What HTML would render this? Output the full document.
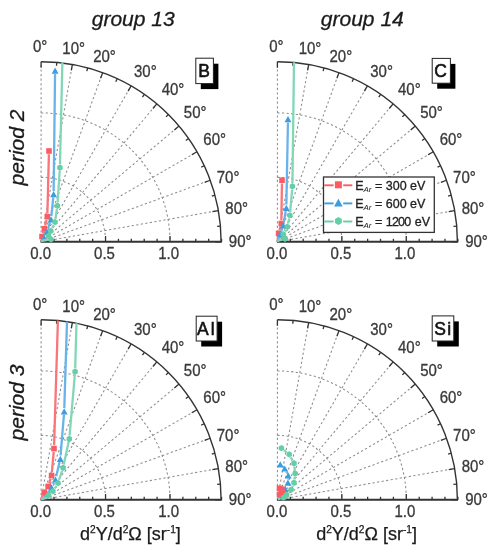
<!DOCTYPE html>
<html><head><meta charset="utf-8"><title>Polar plots</title>
<style>
html,body{margin:0;padding:0;background:#fff;}
body{width:493px;height:550px;overflow:hidden;}
svg{display:block;font-family:"Liberation Sans",Arial,sans-serif;}
.g{fill:none;stroke:#8c8c8c;stroke-width:1.05;stroke-dasharray:2.2 2.4;}
.arc{fill:none;stroke:#333333;stroke-width:1.4;}
.ax{stroke:#333333;stroke-width:2;}
.tk{stroke:#333333;stroke-width:1.3;}
.tl{font-size:15px;fill:#3a3a3a;stroke:#3a3a3a;stroke-width:0.3px;}
.el{font-size:17.5px;fill:#111;stroke:#111;stroke-width:0.55px;}
.lg{font-size:12.5px;fill:#222;stroke:#222;stroke-width:0.3px;}
.sub{font-size:8px;font-style:italic;stroke-width:0;}
.ti{font-size:21px;font-style:italic;fill:#1a1a1a;stroke:#1a1a1a;stroke-width:0.3px;}
.xl{font-size:18px;fill:#1a1a1a;stroke:#1a1a1a;stroke-width:0.25px;}
.sup{font-size:10.2px;}
</style></head>
<body><svg width="493" height="550" viewBox="0 0 493 550">
<rect width="493" height="550" fill="#fff"/>
<path d="M41.1,177.35 A64.45,64.45 0 0 1 105.55,241.8" class="g"/>
<path d="M41.1,112.9 A128.9,128.9 0 0 1 170,241.8" class="g"/>
<line x1="41.1" y1="241.8" x2="41.1" y2="61.8" class="g"/>
<line x1="41.1" y1="241.8" x2="72.36" y2="64.53" class="g"/>
<line x1="41.1" y1="241.8" x2="102.66" y2="72.66" class="g"/>
<line x1="41.1" y1="241.8" x2="131.1" y2="85.92" class="g"/>
<line x1="41.1" y1="241.8" x2="156.8" y2="103.91" class="g"/>
<line x1="41.1" y1="241.8" x2="178.99" y2="126.1" class="g"/>
<line x1="41.1" y1="241.8" x2="196.98" y2="151.8" class="g"/>
<line x1="41.1" y1="241.8" x2="210.24" y2="180.24" class="g"/>
<line x1="41.1" y1="241.8" x2="218.37" y2="210.54" class="g"/>
<path d="M41.1,61.8 A180,180 0 0 1 221.1,241.8" class="arc"/>
<line x1="41.1" y1="61.8" x2="41.1" y2="67.8" class="tk"/>
<line x1="56.79" y1="62.48" x2="56.5" y2="65.77" class="tk"/>
<line x1="72.36" y1="64.53" x2="71.31" y2="70.44" class="tk"/>
<line x1="87.69" y1="67.93" x2="86.83" y2="71.12" class="tk"/>
<line x1="102.66" y1="72.66" x2="100.61" y2="78.29" class="tk"/>
<line x1="117.17" y1="78.66" x2="115.78" y2="81.66" class="tk"/>
<line x1="131.1" y1="85.92" x2="128.1" y2="91.11" class="tk"/>
<line x1="144.34" y1="94.35" x2="142.45" y2="97.06" class="tk"/>
<line x1="156.8" y1="103.91" x2="152.95" y2="108.51" class="tk"/>
<line x1="168.38" y1="114.52" x2="166.05" y2="116.85" class="tk"/>
<line x1="178.99" y1="126.1" x2="174.39" y2="129.95" class="tk"/>
<line x1="188.55" y1="138.56" x2="185.84" y2="140.45" class="tk"/>
<line x1="196.98" y1="151.8" x2="191.79" y2="154.8" class="tk"/>
<line x1="204.24" y1="165.73" x2="201.24" y2="167.12" class="tk"/>
<line x1="210.24" y1="180.24" x2="204.61" y2="182.29" class="tk"/>
<line x1="214.97" y1="195.21" x2="211.78" y2="196.07" class="tk"/>
<line x1="218.37" y1="210.54" x2="212.46" y2="211.59" class="tk"/>
<line x1="220.42" y1="226.11" x2="217.13" y2="226.4" class="tk"/>
<line x1="221.1" y1="241.8" x2="215.1" y2="241.8" class="tk"/>
<line x1="40.6" y1="241.8" x2="221.8" y2="241.8" class="ax"/>
<line x1="53.99" y1="241.8" x2="53.99" y2="238.8" class="tk"/>
<line x1="66.88" y1="241.8" x2="66.88" y2="238.8" class="tk"/>
<line x1="79.77" y1="241.8" x2="79.77" y2="238.8" class="tk"/>
<line x1="92.66" y1="241.8" x2="92.66" y2="238.8" class="tk"/>
<line x1="105.55" y1="241.8" x2="105.55" y2="236" class="tk"/>
<line x1="118.44" y1="241.8" x2="118.44" y2="238.8" class="tk"/>
<line x1="131.33" y1="241.8" x2="131.33" y2="238.8" class="tk"/>
<line x1="144.22" y1="241.8" x2="144.22" y2="238.8" class="tk"/>
<line x1="157.11" y1="241.8" x2="157.11" y2="238.8" class="tk"/>
<line x1="170" y1="241.8" x2="170" y2="236" class="tk"/>
<line x1="182.89" y1="241.8" x2="182.89" y2="238.8" class="tk"/>
<line x1="195.78" y1="241.8" x2="195.78" y2="238.8" class="tk"/>
<line x1="208.67" y1="241.8" x2="208.67" y2="238.8" class="tk"/>
<line x1="221.56" y1="241.8" x2="221.56" y2="238.8" class="tk"/>
<text transform="translate(40.7 253.4) scale(1 1.08)" y="5.4" class="tl" text-anchor="middle">0.0</text>
<text transform="translate(104.5 253.4) scale(1 1.08)" y="5.4" class="tl" text-anchor="middle">0.5</text>
<text transform="translate(168.6 253.4) scale(1 1.08)" y="5.4" class="tl" text-anchor="middle">1.0</text>
<text transform="translate(40.1 45.9) scale(1 1.08)" y="5.4" class="tl" text-anchor="middle">0°</text>
<text transform="translate(73.7 48.6) scale(1 1.08)" y="5.4" class="tl" text-anchor="middle">10°</text>
<text transform="translate(104.5 56.6) scale(1 1.08)" y="5.4" class="tl" text-anchor="middle">20°</text>
<text transform="translate(145.3 71) scale(1 1.08)" y="5.4" class="tl" text-anchor="middle">30°</text>
<text transform="translate(173 88.9) scale(1 1.08)" y="5.4" class="tl" text-anchor="middle">40°</text>
<text transform="translate(195.2 111.9) scale(1 1.08)" y="5.4" class="tl" text-anchor="middle">50°</text>
<text transform="translate(214.7 139.1) scale(1 1.08)" y="5.4" class="tl" text-anchor="middle">60°</text>
<text transform="translate(228.1 176.7) scale(1 1.08)" y="5.4" class="tl" text-anchor="middle">70°</text>
<text transform="translate(236.7 207.8) scale(1 1.08)" y="5.4" class="tl" text-anchor="middle">80°</text>
<text transform="translate(240.2 241.4) scale(1 1.08)" y="5.4" class="tl" text-anchor="middle">90°</text>
<path d="M277.4,177.35 A64.45,64.45 0 0 1 341.85,241.8" class="g"/>
<path d="M277.4,112.9 A128.9,128.9 0 0 1 406.3,241.8" class="g"/>
<line x1="277.4" y1="241.8" x2="277.4" y2="61.8" class="g"/>
<line x1="277.4" y1="241.8" x2="308.66" y2="64.53" class="g"/>
<line x1="277.4" y1="241.8" x2="338.96" y2="72.66" class="g"/>
<line x1="277.4" y1="241.8" x2="367.4" y2="85.92" class="g"/>
<line x1="277.4" y1="241.8" x2="393.1" y2="103.91" class="g"/>
<line x1="277.4" y1="241.8" x2="415.29" y2="126.1" class="g"/>
<line x1="277.4" y1="241.8" x2="433.28" y2="151.8" class="g"/>
<line x1="277.4" y1="241.8" x2="446.54" y2="180.24" class="g"/>
<line x1="277.4" y1="241.8" x2="454.67" y2="210.54" class="g"/>
<path d="M277.4,61.8 A180,180 0 0 1 457.4,241.8" class="arc"/>
<line x1="277.4" y1="61.8" x2="277.4" y2="67.8" class="tk"/>
<line x1="293.09" y1="62.48" x2="292.8" y2="65.77" class="tk"/>
<line x1="308.66" y1="64.53" x2="307.61" y2="70.44" class="tk"/>
<line x1="323.99" y1="67.93" x2="323.13" y2="71.12" class="tk"/>
<line x1="338.96" y1="72.66" x2="336.91" y2="78.29" class="tk"/>
<line x1="353.47" y1="78.66" x2="352.08" y2="81.66" class="tk"/>
<line x1="367.4" y1="85.92" x2="364.4" y2="91.11" class="tk"/>
<line x1="380.64" y1="94.35" x2="378.75" y2="97.06" class="tk"/>
<line x1="393.1" y1="103.91" x2="389.25" y2="108.51" class="tk"/>
<line x1="404.68" y1="114.52" x2="402.35" y2="116.85" class="tk"/>
<line x1="415.29" y1="126.1" x2="410.69" y2="129.95" class="tk"/>
<line x1="424.85" y1="138.56" x2="422.14" y2="140.45" class="tk"/>
<line x1="433.28" y1="151.8" x2="428.09" y2="154.8" class="tk"/>
<line x1="440.54" y1="165.73" x2="437.54" y2="167.12" class="tk"/>
<line x1="446.54" y1="180.24" x2="440.91" y2="182.29" class="tk"/>
<line x1="451.27" y1="195.21" x2="448.08" y2="196.07" class="tk"/>
<line x1="454.67" y1="210.54" x2="448.76" y2="211.59" class="tk"/>
<line x1="456.72" y1="226.11" x2="453.43" y2="226.4" class="tk"/>
<line x1="457.4" y1="241.8" x2="451.4" y2="241.8" class="tk"/>
<line x1="276.9" y1="241.8" x2="458.1" y2="241.8" class="ax"/>
<line x1="290.29" y1="241.8" x2="290.29" y2="238.8" class="tk"/>
<line x1="303.18" y1="241.8" x2="303.18" y2="238.8" class="tk"/>
<line x1="316.07" y1="241.8" x2="316.07" y2="238.8" class="tk"/>
<line x1="328.96" y1="241.8" x2="328.96" y2="238.8" class="tk"/>
<line x1="341.85" y1="241.8" x2="341.85" y2="236" class="tk"/>
<line x1="354.74" y1="241.8" x2="354.74" y2="238.8" class="tk"/>
<line x1="367.63" y1="241.8" x2="367.63" y2="238.8" class="tk"/>
<line x1="380.52" y1="241.8" x2="380.52" y2="238.8" class="tk"/>
<line x1="393.41" y1="241.8" x2="393.41" y2="238.8" class="tk"/>
<line x1="406.3" y1="241.8" x2="406.3" y2="236" class="tk"/>
<line x1="419.19" y1="241.8" x2="419.19" y2="238.8" class="tk"/>
<line x1="432.08" y1="241.8" x2="432.08" y2="238.8" class="tk"/>
<line x1="444.97" y1="241.8" x2="444.97" y2="238.8" class="tk"/>
<line x1="457.86" y1="241.8" x2="457.86" y2="238.8" class="tk"/>
<text transform="translate(277 253.4) scale(1 1.08)" y="5.4" class="tl" text-anchor="middle">0.0</text>
<text transform="translate(340.8 253.4) scale(1 1.08)" y="5.4" class="tl" text-anchor="middle">0.5</text>
<text transform="translate(404.9 253.4) scale(1 1.08)" y="5.4" class="tl" text-anchor="middle">1.0</text>
<text transform="translate(276.4 45.9) scale(1 1.08)" y="5.4" class="tl" text-anchor="middle">0°</text>
<text transform="translate(310 48.6) scale(1 1.08)" y="5.4" class="tl" text-anchor="middle">10°</text>
<text transform="translate(340.8 56.6) scale(1 1.08)" y="5.4" class="tl" text-anchor="middle">20°</text>
<text transform="translate(381.6 71) scale(1 1.08)" y="5.4" class="tl" text-anchor="middle">30°</text>
<text transform="translate(409.3 88.9) scale(1 1.08)" y="5.4" class="tl" text-anchor="middle">40°</text>
<text transform="translate(431.5 111.9) scale(1 1.08)" y="5.4" class="tl" text-anchor="middle">50°</text>
<text transform="translate(451 139.1) scale(1 1.08)" y="5.4" class="tl" text-anchor="middle">60°</text>
<text transform="translate(464.4 176.7) scale(1 1.08)" y="5.4" class="tl" text-anchor="middle">70°</text>
<text transform="translate(473 207.8) scale(1 1.08)" y="5.4" class="tl" text-anchor="middle">80°</text>
<text transform="translate(476.5 241.4) scale(1 1.08)" y="5.4" class="tl" text-anchor="middle">90°</text>
<path d="M41.1,435.35 A64.45,64.45 0 0 1 105.55,499.8" class="g"/>
<path d="M41.1,370.9 A128.9,128.9 0 0 1 170,499.8" class="g"/>
<line x1="41.1" y1="499.8" x2="41.1" y2="319.8" class="g"/>
<line x1="41.1" y1="499.8" x2="72.36" y2="322.53" class="g"/>
<line x1="41.1" y1="499.8" x2="102.66" y2="330.66" class="g"/>
<line x1="41.1" y1="499.8" x2="131.1" y2="343.92" class="g"/>
<line x1="41.1" y1="499.8" x2="156.8" y2="361.91" class="g"/>
<line x1="41.1" y1="499.8" x2="178.99" y2="384.1" class="g"/>
<line x1="41.1" y1="499.8" x2="196.98" y2="409.8" class="g"/>
<line x1="41.1" y1="499.8" x2="210.24" y2="438.24" class="g"/>
<line x1="41.1" y1="499.8" x2="218.37" y2="468.54" class="g"/>
<path d="M41.1,319.8 A180,180 0 0 1 221.1,499.8" class="arc"/>
<line x1="41.1" y1="319.8" x2="41.1" y2="325.8" class="tk"/>
<line x1="56.79" y1="320.48" x2="56.5" y2="323.77" class="tk"/>
<line x1="72.36" y1="322.53" x2="71.31" y2="328.44" class="tk"/>
<line x1="87.69" y1="325.93" x2="86.83" y2="329.12" class="tk"/>
<line x1="102.66" y1="330.66" x2="100.61" y2="336.29" class="tk"/>
<line x1="117.17" y1="336.66" x2="115.78" y2="339.66" class="tk"/>
<line x1="131.1" y1="343.92" x2="128.1" y2="349.11" class="tk"/>
<line x1="144.34" y1="352.35" x2="142.45" y2="355.06" class="tk"/>
<line x1="156.8" y1="361.91" x2="152.95" y2="366.51" class="tk"/>
<line x1="168.38" y1="372.52" x2="166.05" y2="374.85" class="tk"/>
<line x1="178.99" y1="384.1" x2="174.39" y2="387.95" class="tk"/>
<line x1="188.55" y1="396.56" x2="185.84" y2="398.45" class="tk"/>
<line x1="196.98" y1="409.8" x2="191.79" y2="412.8" class="tk"/>
<line x1="204.24" y1="423.73" x2="201.24" y2="425.12" class="tk"/>
<line x1="210.24" y1="438.24" x2="204.61" y2="440.29" class="tk"/>
<line x1="214.97" y1="453.21" x2="211.78" y2="454.07" class="tk"/>
<line x1="218.37" y1="468.54" x2="212.46" y2="469.59" class="tk"/>
<line x1="220.42" y1="484.11" x2="217.13" y2="484.4" class="tk"/>
<line x1="221.1" y1="499.8" x2="215.1" y2="499.8" class="tk"/>
<line x1="40.6" y1="499.8" x2="221.8" y2="499.8" class="ax"/>
<line x1="53.99" y1="499.8" x2="53.99" y2="496.8" class="tk"/>
<line x1="66.88" y1="499.8" x2="66.88" y2="496.8" class="tk"/>
<line x1="79.77" y1="499.8" x2="79.77" y2="496.8" class="tk"/>
<line x1="92.66" y1="499.8" x2="92.66" y2="496.8" class="tk"/>
<line x1="105.55" y1="499.8" x2="105.55" y2="494" class="tk"/>
<line x1="118.44" y1="499.8" x2="118.44" y2="496.8" class="tk"/>
<line x1="131.33" y1="499.8" x2="131.33" y2="496.8" class="tk"/>
<line x1="144.22" y1="499.8" x2="144.22" y2="496.8" class="tk"/>
<line x1="157.11" y1="499.8" x2="157.11" y2="496.8" class="tk"/>
<line x1="170" y1="499.8" x2="170" y2="494" class="tk"/>
<line x1="182.89" y1="499.8" x2="182.89" y2="496.8" class="tk"/>
<line x1="195.78" y1="499.8" x2="195.78" y2="496.8" class="tk"/>
<line x1="208.67" y1="499.8" x2="208.67" y2="496.8" class="tk"/>
<line x1="221.56" y1="499.8" x2="221.56" y2="496.8" class="tk"/>
<text transform="translate(40.7 511.4) scale(1 1.08)" y="5.4" class="tl" text-anchor="middle">0.0</text>
<text transform="translate(104.5 511.4) scale(1 1.08)" y="5.4" class="tl" text-anchor="middle">0.5</text>
<text transform="translate(168.6 511.4) scale(1 1.08)" y="5.4" class="tl" text-anchor="middle">1.0</text>
<text transform="translate(40.1 303.9) scale(1 1.08)" y="5.4" class="tl" text-anchor="middle">0°</text>
<text transform="translate(73.7 306.6) scale(1 1.08)" y="5.4" class="tl" text-anchor="middle">10°</text>
<text transform="translate(104.5 314.6) scale(1 1.08)" y="5.4" class="tl" text-anchor="middle">20°</text>
<text transform="translate(145.3 329) scale(1 1.08)" y="5.4" class="tl" text-anchor="middle">30°</text>
<text transform="translate(173 346.9) scale(1 1.08)" y="5.4" class="tl" text-anchor="middle">40°</text>
<text transform="translate(195.2 369.9) scale(1 1.08)" y="5.4" class="tl" text-anchor="middle">50°</text>
<text transform="translate(214.7 397.1) scale(1 1.08)" y="5.4" class="tl" text-anchor="middle">60°</text>
<text transform="translate(228.1 434.7) scale(1 1.08)" y="5.4" class="tl" text-anchor="middle">70°</text>
<text transform="translate(236.7 465.8) scale(1 1.08)" y="5.4" class="tl" text-anchor="middle">80°</text>
<text transform="translate(240.2 499.4) scale(1 1.08)" y="5.4" class="tl" text-anchor="middle">90°</text>
<path d="M277.4,435.35 A64.45,64.45 0 0 1 341.85,499.8" class="g"/>
<path d="M277.4,370.9 A128.9,128.9 0 0 1 406.3,499.8" class="g"/>
<line x1="277.4" y1="499.8" x2="277.4" y2="319.8" class="g"/>
<line x1="277.4" y1="499.8" x2="308.66" y2="322.53" class="g"/>
<line x1="277.4" y1="499.8" x2="338.96" y2="330.66" class="g"/>
<line x1="277.4" y1="499.8" x2="367.4" y2="343.92" class="g"/>
<line x1="277.4" y1="499.8" x2="393.1" y2="361.91" class="g"/>
<line x1="277.4" y1="499.8" x2="415.29" y2="384.1" class="g"/>
<line x1="277.4" y1="499.8" x2="433.28" y2="409.8" class="g"/>
<line x1="277.4" y1="499.8" x2="446.54" y2="438.24" class="g"/>
<line x1="277.4" y1="499.8" x2="454.67" y2="468.54" class="g"/>
<path d="M277.4,319.8 A180,180 0 0 1 457.4,499.8" class="arc"/>
<line x1="277.4" y1="319.8" x2="277.4" y2="325.8" class="tk"/>
<line x1="293.09" y1="320.48" x2="292.8" y2="323.77" class="tk"/>
<line x1="308.66" y1="322.53" x2="307.61" y2="328.44" class="tk"/>
<line x1="323.99" y1="325.93" x2="323.13" y2="329.12" class="tk"/>
<line x1="338.96" y1="330.66" x2="336.91" y2="336.29" class="tk"/>
<line x1="353.47" y1="336.66" x2="352.08" y2="339.66" class="tk"/>
<line x1="367.4" y1="343.92" x2="364.4" y2="349.11" class="tk"/>
<line x1="380.64" y1="352.35" x2="378.75" y2="355.06" class="tk"/>
<line x1="393.1" y1="361.91" x2="389.25" y2="366.51" class="tk"/>
<line x1="404.68" y1="372.52" x2="402.35" y2="374.85" class="tk"/>
<line x1="415.29" y1="384.1" x2="410.69" y2="387.95" class="tk"/>
<line x1="424.85" y1="396.56" x2="422.14" y2="398.45" class="tk"/>
<line x1="433.28" y1="409.8" x2="428.09" y2="412.8" class="tk"/>
<line x1="440.54" y1="423.73" x2="437.54" y2="425.12" class="tk"/>
<line x1="446.54" y1="438.24" x2="440.91" y2="440.29" class="tk"/>
<line x1="451.27" y1="453.21" x2="448.08" y2="454.07" class="tk"/>
<line x1="454.67" y1="468.54" x2="448.76" y2="469.59" class="tk"/>
<line x1="456.72" y1="484.11" x2="453.43" y2="484.4" class="tk"/>
<line x1="457.4" y1="499.8" x2="451.4" y2="499.8" class="tk"/>
<line x1="276.9" y1="499.8" x2="458.1" y2="499.8" class="ax"/>
<line x1="290.29" y1="499.8" x2="290.29" y2="496.8" class="tk"/>
<line x1="303.18" y1="499.8" x2="303.18" y2="496.8" class="tk"/>
<line x1="316.07" y1="499.8" x2="316.07" y2="496.8" class="tk"/>
<line x1="328.96" y1="499.8" x2="328.96" y2="496.8" class="tk"/>
<line x1="341.85" y1="499.8" x2="341.85" y2="494" class="tk"/>
<line x1="354.74" y1="499.8" x2="354.74" y2="496.8" class="tk"/>
<line x1="367.63" y1="499.8" x2="367.63" y2="496.8" class="tk"/>
<line x1="380.52" y1="499.8" x2="380.52" y2="496.8" class="tk"/>
<line x1="393.41" y1="499.8" x2="393.41" y2="496.8" class="tk"/>
<line x1="406.3" y1="499.8" x2="406.3" y2="494" class="tk"/>
<line x1="419.19" y1="499.8" x2="419.19" y2="496.8" class="tk"/>
<line x1="432.08" y1="499.8" x2="432.08" y2="496.8" class="tk"/>
<line x1="444.97" y1="499.8" x2="444.97" y2="496.8" class="tk"/>
<line x1="457.86" y1="499.8" x2="457.86" y2="496.8" class="tk"/>
<text transform="translate(277 511.4) scale(1 1.08)" y="5.4" class="tl" text-anchor="middle">0.0</text>
<text transform="translate(340.8 511.4) scale(1 1.08)" y="5.4" class="tl" text-anchor="middle">0.5</text>
<text transform="translate(404.9 511.4) scale(1 1.08)" y="5.4" class="tl" text-anchor="middle">1.0</text>
<text transform="translate(276.4 303.9) scale(1 1.08)" y="5.4" class="tl" text-anchor="middle">0°</text>
<text transform="translate(310 306.6) scale(1 1.08)" y="5.4" class="tl" text-anchor="middle">10°</text>
<text transform="translate(340.8 314.6) scale(1 1.08)" y="5.4" class="tl" text-anchor="middle">20°</text>
<text transform="translate(381.6 329) scale(1 1.08)" y="5.4" class="tl" text-anchor="middle">30°</text>
<text transform="translate(409.3 346.9) scale(1 1.08)" y="5.4" class="tl" text-anchor="middle">40°</text>
<text transform="translate(431.5 369.9) scale(1 1.08)" y="5.4" class="tl" text-anchor="middle">50°</text>
<text transform="translate(451 397.1) scale(1 1.08)" y="5.4" class="tl" text-anchor="middle">60°</text>
<text transform="translate(464.4 434.7) scale(1 1.08)" y="5.4" class="tl" text-anchor="middle">70°</text>
<text transform="translate(473 465.8) scale(1 1.08)" y="5.4" class="tl" text-anchor="middle">80°</text>
<text transform="translate(476.5 499.4) scale(1 1.08)" y="5.4" class="tl" text-anchor="middle">90°</text>
<path d="M48.91,154.3 L47.39,213.4 M46.53,219.91 L45.17,225.59 M43.42,231.95 L42.98,233.35 M41.7,239.79 L41.5,242" fill="none" stroke="#fa7479" stroke-width="2.3" stroke-linecap="butt"/>
<rect x="46.2" y="148.2" width="5.6" height="5.6" fill="#f95c63"/>
<rect x="44.5" y="213.9" width="5.6" height="5.6" fill="#f95c63"/>
<rect x="41.6" y="226" width="5.6" height="5.6" fill="#f95c63"/>
<rect x="39.2" y="233.7" width="5.6" height="5.6" fill="#f95c63"/>
<path d="M55.06,73.9 L53.64,190.9 M53.26,197.48 L51.34,216.02 M49.99,222.44 L48.01,228.66 M45.52,234.75 L45.28,235.25 M42.09,241.02 L41.5,242" fill="none" stroke="#68b3ea" stroke-width="2.3" stroke-linecap="butt"/>
<path d="M55.1,67.52 L58.57,73.68 L51.63,73.68Z" fill="#3c9ee2"/>
<path d="M53.6,191.12 L57.07,197.28 L50.13,197.28Z" fill="#3c9ee2"/>
<path d="M51,216.22 L54.47,222.38 L47.53,222.38Z" fill="#3c9ee2"/>
<path d="M47,228.72 L50.47,234.88 L43.53,234.88Z" fill="#3c9ee2"/>
<path d="M43.8,235.12 L47.27,241.28 L40.33,241.28Z" fill="#3c9ee2"/>
<path d="M62.4,62.3 L59.98,164.4 M59.68,170.99 L57.62,202.51 M56.92,209.06 L55.48,218.74 M53.6,224.99 L52.2,228.01 M47.74,239.84 L41.3,240.9" fill="none" stroke="#82d7b7" stroke-width="2.3" stroke-linecap="butt"/>
<path d="M59.9,164.51 L62.62,166.1 L62.62,169.3 L59.9,170.89 L57.18,169.3 L57.18,166.1Z" fill="#62cfa6"/>
<path d="M57.4,202.61 L60.12,204.2 L60.12,207.4 L57.4,208.99 L54.68,207.4 L54.68,204.2Z" fill="#62cfa6"/>
<path d="M55,218.81 L57.72,220.4 L57.72,223.6 L55,225.19 L52.28,223.6 L52.28,220.4Z" fill="#62cfa6"/>
<path d="M50.8,227.81 L53.52,229.4 L53.52,232.6 L50.8,234.19 L48.08,232.6 L48.08,229.4Z" fill="#62cfa6"/>
<path d="M48.5,232.81 L51.22,234.4 L51.22,237.6 L48.5,239.19 L45.78,237.6 L45.78,234.4Z" fill="#62cfa6"/>
<path d="M51,236.11 L53.72,237.7 L53.72,240.9 L51,242.49 L48.28,240.9 L48.28,237.7Z" fill="#62cfa6"/>
<path d="M281.95,183.5 L281.35,220.2 M280.42,226.68 L279.48,230.12 M278.07,236.56 L277.6,239.5 M277.6,239.5 L277.5,242" fill="none" stroke="#fa7479" stroke-width="2.3" stroke-linecap="butt"/>
<rect x="279.2" y="177.4" width="5.6" height="5.6" fill="#f95c63"/>
<rect x="278.5" y="220.7" width="5.6" height="5.6" fill="#f95c63"/>
<rect x="275.8" y="230.5" width="5.6" height="5.6" fill="#f95c63"/>
<path d="M287.94,122.4 L286.36,204.5 M285.73,211.05 L283.77,222.25 M282.13,228.62 L281.37,230.88 M279.21,237.11 L277.5,242" fill="none" stroke="#68b3ea" stroke-width="2.3" stroke-linecap="butt"/>
<path d="M288,116.02 L291.47,122.18 L284.53,122.18Z" fill="#3c9ee2"/>
<path d="M286.3,204.72 L289.77,210.88 L282.83,210.88Z" fill="#3c9ee2"/>
<path d="M283.2,222.42 L286.67,228.58 L279.73,228.58Z" fill="#3c9ee2"/>
<path d="M280.3,230.92 L283.77,237.08 L276.83,237.08Z" fill="#3c9ee2"/>
<path d="M294,62.3 L292.44,183 M292.12,189.59 L290.18,212.11 M289.17,218.62 L288.03,223.58 M285.72,229.7 L284.78,231.4 M281.83,239.7 L277.6,240.9" fill="none" stroke="#82d7b7" stroke-width="2.3" stroke-linecap="butt"/>
<path d="M292.4,183.11 L295.12,184.7 L295.12,187.9 L292.4,189.49 L289.68,187.9 L289.68,184.7Z" fill="#62cfa6"/>
<path d="M289.9,212.21 L292.62,213.8 L292.62,217 L289.9,218.59 L287.18,217 L287.18,213.8Z" fill="#62cfa6"/>
<path d="M287.3,223.61 L290.02,225.2 L290.02,228.4 L287.3,229.99 L284.58,228.4 L284.58,225.2Z" fill="#62cfa6"/>
<path d="M283.2,231.11 L285.92,232.7 L285.92,235.9 L283.2,237.49 L280.48,235.9 L280.48,232.7Z" fill="#62cfa6"/>
<path d="M285,235.61 L287.72,237.2 L287.72,240.4 L285,241.99 L282.28,240.4 L282.28,237.2Z" fill="#62cfa6"/>
<path d="M57.9,320.6 L54.1,445.3 M53.71,451.89 L51.89,472.21 M50.62,478.65 L49.18,483.25 M46.43,489.19 L45.97,489.91 M42.7,495.64 L41.5,498 M41.5,498 L41.5,500" fill="none" stroke="#fa7479" stroke-width="2.3" stroke-linecap="butt"/>
<rect x="51.2" y="445.8" width="5.6" height="5.6" fill="#f95c63"/>
<rect x="48.8" y="472.7" width="5.6" height="5.6" fill="#f95c63"/>
<rect x="45.4" y="483.6" width="5.6" height="5.6" fill="#f95c63"/>
<rect x="41.4" y="489.9" width="5.6" height="5.6" fill="#f95c63"/>
<path d="M67,321.6 L64.3,408.1 M63.93,414.69 L60.57,455.51 M59.55,462.01 L56.25,476.29 M53.99,482.44 L53.01,484.36 M50,490.24 L48.4,493.4 M48.4,493.4 L41.5,500" fill="none" stroke="#68b3ea" stroke-width="2.3" stroke-linecap="butt"/>
<path d="M64.2,408.32 L67.67,414.48 L60.73,414.48Z" fill="#3c9ee2"/>
<path d="M60.3,455.72 L63.77,461.88 L56.83,461.88Z" fill="#3c9ee2"/>
<path d="M55.5,476.42 L58.97,482.58 L52.03,482.58Z" fill="#3c9ee2"/>
<path d="M51.5,484.22 L54.97,490.38 L48.03,490.38Z" fill="#3c9ee2"/>
<path d="M76.5,323.2 L75.2,368.4 M74.82,374.99 L69.58,435.61 M68.61,442.13 L63.79,464.57 M62.05,470.93 L59.05,479.87 M56.27,485.81 L54.63,488.49 M47.5,497.8 L41.3,498.9" fill="none" stroke="#82d7b7" stroke-width="2.3" stroke-linecap="butt"/>
<path d="M75.1,368.51 L77.82,370.1 L77.82,373.3 L75.1,374.89 L72.38,373.3 L72.38,370.1Z" fill="#62cfa6"/>
<path d="M69.3,435.71 L72.02,437.3 L72.02,440.5 L69.3,442.09 L66.58,440.5 L66.58,437.3Z" fill="#62cfa6"/>
<path d="M63.1,464.61 L65.82,466.2 L65.82,469.4 L63.1,470.99 L60.38,469.4 L60.38,466.2Z" fill="#62cfa6"/>
<path d="M58,479.81 L60.72,481.4 L60.72,484.6 L58,486.19 L55.28,484.6 L55.28,481.4Z" fill="#62cfa6"/>
<path d="M52.9,488.11 L55.62,489.7 L55.62,492.9 L52.9,494.49 L50.18,492.9 L50.18,489.7Z" fill="#62cfa6"/>
<path d="M48.4,492.21 L51.12,493.8 L51.12,497 L48.4,498.59 L45.68,497 L45.68,493.8Z" fill="#62cfa6"/>
<path d="M286.19,471.44 L286.71,472.46 M288.06,478.7 L288.04,479.4 M278.26,498.92 L278,499.2" fill="none" stroke="#68b3ea" stroke-width="2.3" stroke-linecap="butt"/>
<path d="M280.3,461.22 L283.77,467.38 L276.83,467.38Z" fill="#3c9ee2"/>
<path d="M284.7,465.42 L288.17,471.58 L281.23,471.58Z" fill="#3c9ee2"/>
<path d="M288.2,472.32 L291.67,478.48 L284.73,478.48Z" fill="#3c9ee2"/>
<path d="M287.9,479.62 L291.37,485.78 L284.43,485.78Z" fill="#3c9ee2"/>
<path d="M285.4,486.02 L288.87,492.18 L281.93,492.18Z" fill="#3c9ee2"/>
<path d="M283,490.12 L286.47,496.28 L279.53,496.28Z" fill="#3c9ee2"/>
<path d="M280.5,493.42 L283.97,499.58 L277.03,499.58Z" fill="#3c9ee2"/>
<rect x="276.7" y="485.5" width="5.6" height="5.6" fill="#f95c63"/>
<rect x="278.7" y="486.4" width="5.6" height="5.6" fill="#f95c63"/>
<rect x="279.5" y="488.5" width="5.6" height="5.6" fill="#f95c63"/>
<rect x="278.7" y="490.6" width="5.6" height="5.6" fill="#f95c63"/>
<rect x="276.7" y="491.6" width="5.6" height="5.6" fill="#f95c63"/>
<path d="M283.97,450.17 L286.63,452.33 M290.77,457.3 L292.43,460.4 M294.39,466.58 L294.81,470.22 M294.77,476.77 L294.43,479.43 M292.74,485.75 L292.36,486.65 M280.33,498.52 L278,499.2" fill="none" stroke="#82d7b7" stroke-width="2.3" stroke-linecap="butt"/>
<path d="M281.4,444.91 L284.12,446.5 L284.12,449.7 L281.4,451.29 L278.68,449.7 L278.68,446.5Z" fill="#62cfa6"/>
<path d="M289.2,451.21 L291.92,452.8 L291.92,456 L289.2,457.59 L286.48,456 L286.48,452.8Z" fill="#62cfa6"/>
<path d="M294,460.11 L296.72,461.7 L296.72,464.9 L294,466.49 L291.28,464.9 L291.28,461.7Z" fill="#62cfa6"/>
<path d="M295.2,470.31 L297.92,471.9 L297.92,475.1 L295.2,476.69 L292.48,475.1 L292.48,471.9Z" fill="#62cfa6"/>
<path d="M294,479.51 L296.72,481.1 L296.72,484.3 L294,485.89 L291.28,484.3 L291.28,481.1Z" fill="#62cfa6"/>
<path d="M291.1,486.51 L293.82,488.1 L293.82,491.3 L291.1,492.89 L288.38,491.3 L288.38,488.1Z" fill="#62cfa6"/>
<path d="M286.6,491.61 L289.32,493.2 L289.32,496.4 L286.6,497.99 L283.88,496.4 L283.88,493.2Z" fill="#62cfa6"/>
<path d="M283.5,494.41 L286.22,496 L286.22,499.2 L283.5,500.79 L280.78,499.2 L280.78,496Z" fill="#62cfa6"/>
<rect x="200.8" y="63.7" width="17.6" height="25.4" fill="#000"/>
<rect x="195.8" y="58.2" width="17.6" height="25.4" fill="#fff" stroke="#222" stroke-width="1"/>
<text x="198.3" y="77.3" class="el">B</text>
<rect x="437.2" y="63.9" width="18.2" height="24.8" fill="#000"/>
<rect x="432.2" y="58.4" width="18.2" height="24.8" fill="#fff" stroke="#222" stroke-width="1"/>
<text x="434.2" y="76.9" class="el">C</text>
<rect x="201.2" y="321.7" width="20.9" height="24.8" fill="#000"/>
<rect x="196.2" y="316.2" width="20.9" height="24.8" fill="#fff" stroke="#222" stroke-width="1"/>
<text x="197.1" y="334.7" class="el" letter-spacing="1.9">Al</text>
<rect x="437.2" y="321.4" width="21.6" height="25.1" fill="#000"/>
<rect x="432.2" y="315.9" width="21.6" height="25.1" fill="#fff" stroke="#222" stroke-width="1"/>
<text x="434.3" y="334.7" class="el" letter-spacing="1.3">Si</text>
<rect x="323.5" y="177" width="110.8" height="55.4" fill="#fff" stroke="#333" stroke-width="1.3"/>
<line x1="324.3" y1="185.3" x2="333.6" y2="185.3" stroke="#f95c63" stroke-width="1.9"/>
<line x1="343.2" y1="185.3" x2="352.3" y2="185.3" stroke="#f95c63" stroke-width="1.9"/>
<rect x="334.9" y="181.3" width="7" height="7" fill="#f95c63"/>
<text x="355.2" y="189.6" class="lg">E<tspan class="sub" dy="2.6">Ar</tspan><tspan dy="-2.6"> = 300 eV</tspan></text>
<line x1="324.3" y1="203.4" x2="333.6" y2="203.4" stroke="#3c9ee2" stroke-width="1.9"/>
<line x1="343.2" y1="203.4" x2="352.3" y2="203.4" stroke="#3c9ee2" stroke-width="1.9"/>
<path d="M338.4,198.75 L342.74,206.45 L334.06,206.45Z" fill="#3c9ee2"/>
<text x="355.2" y="207.7" class="lg">E<tspan class="sub" dy="2.6">Ar</tspan><tspan dy="-2.6"> = 600 eV</tspan></text>
<line x1="324.3" y1="221.5" x2="333.6" y2="221.5" stroke="#62cfa6" stroke-width="1.9"/>
<line x1="343.2" y1="221.5" x2="352.3" y2="221.5" stroke="#62cfa6" stroke-width="1.9"/>
<path d="M338.4,217.11 L341.79,219.1 L341.79,223.09 L338.4,225.09 L335,223.09 L335,219.1Z" fill="#62cfa6"/>
<text x="355.2" y="225.8" class="lg">E<tspan class="sub" dy="2.6">Ar</tspan><tspan dy="-2.6"> = <tspan letter-spacing="-0.8">120</tspan>0 eV</tspan></text>
<text x="133.2" y="25.6" class="ti" text-anchor="middle">group 13</text>
<text x="362.3" y="25.6" class="ti" text-anchor="middle">group 14</text>
<text transform="translate(24 147.5) rotate(-90)" class="ti" text-anchor="middle">period 2</text>
<text transform="translate(24 402.5) rotate(-90)" class="ti" text-anchor="middle">period 3</text>
<text x="130.4" y="540.2" class="xl" text-anchor="middle">d<tspan class="sup" dy="-7.2">2</tspan><tspan dy="7.2">Y/d</tspan><tspan class="sup" dy="-7.2">2</tspan><tspan dy="7.2">Ω [sr</tspan><tspan class="sup" dy="-7.2">-1</tspan><tspan dy="7.2">]</tspan></text>
<text x="366.6" y="540.2" class="xl" text-anchor="middle">d<tspan class="sup" dy="-7.2">2</tspan><tspan dy="7.2">Y/d</tspan><tspan class="sup" dy="-7.2">2</tspan><tspan dy="7.2">Ω [sr</tspan><tspan class="sup" dy="-7.2">-1</tspan><tspan dy="7.2">]</tspan></text>
</svg></body></html>
